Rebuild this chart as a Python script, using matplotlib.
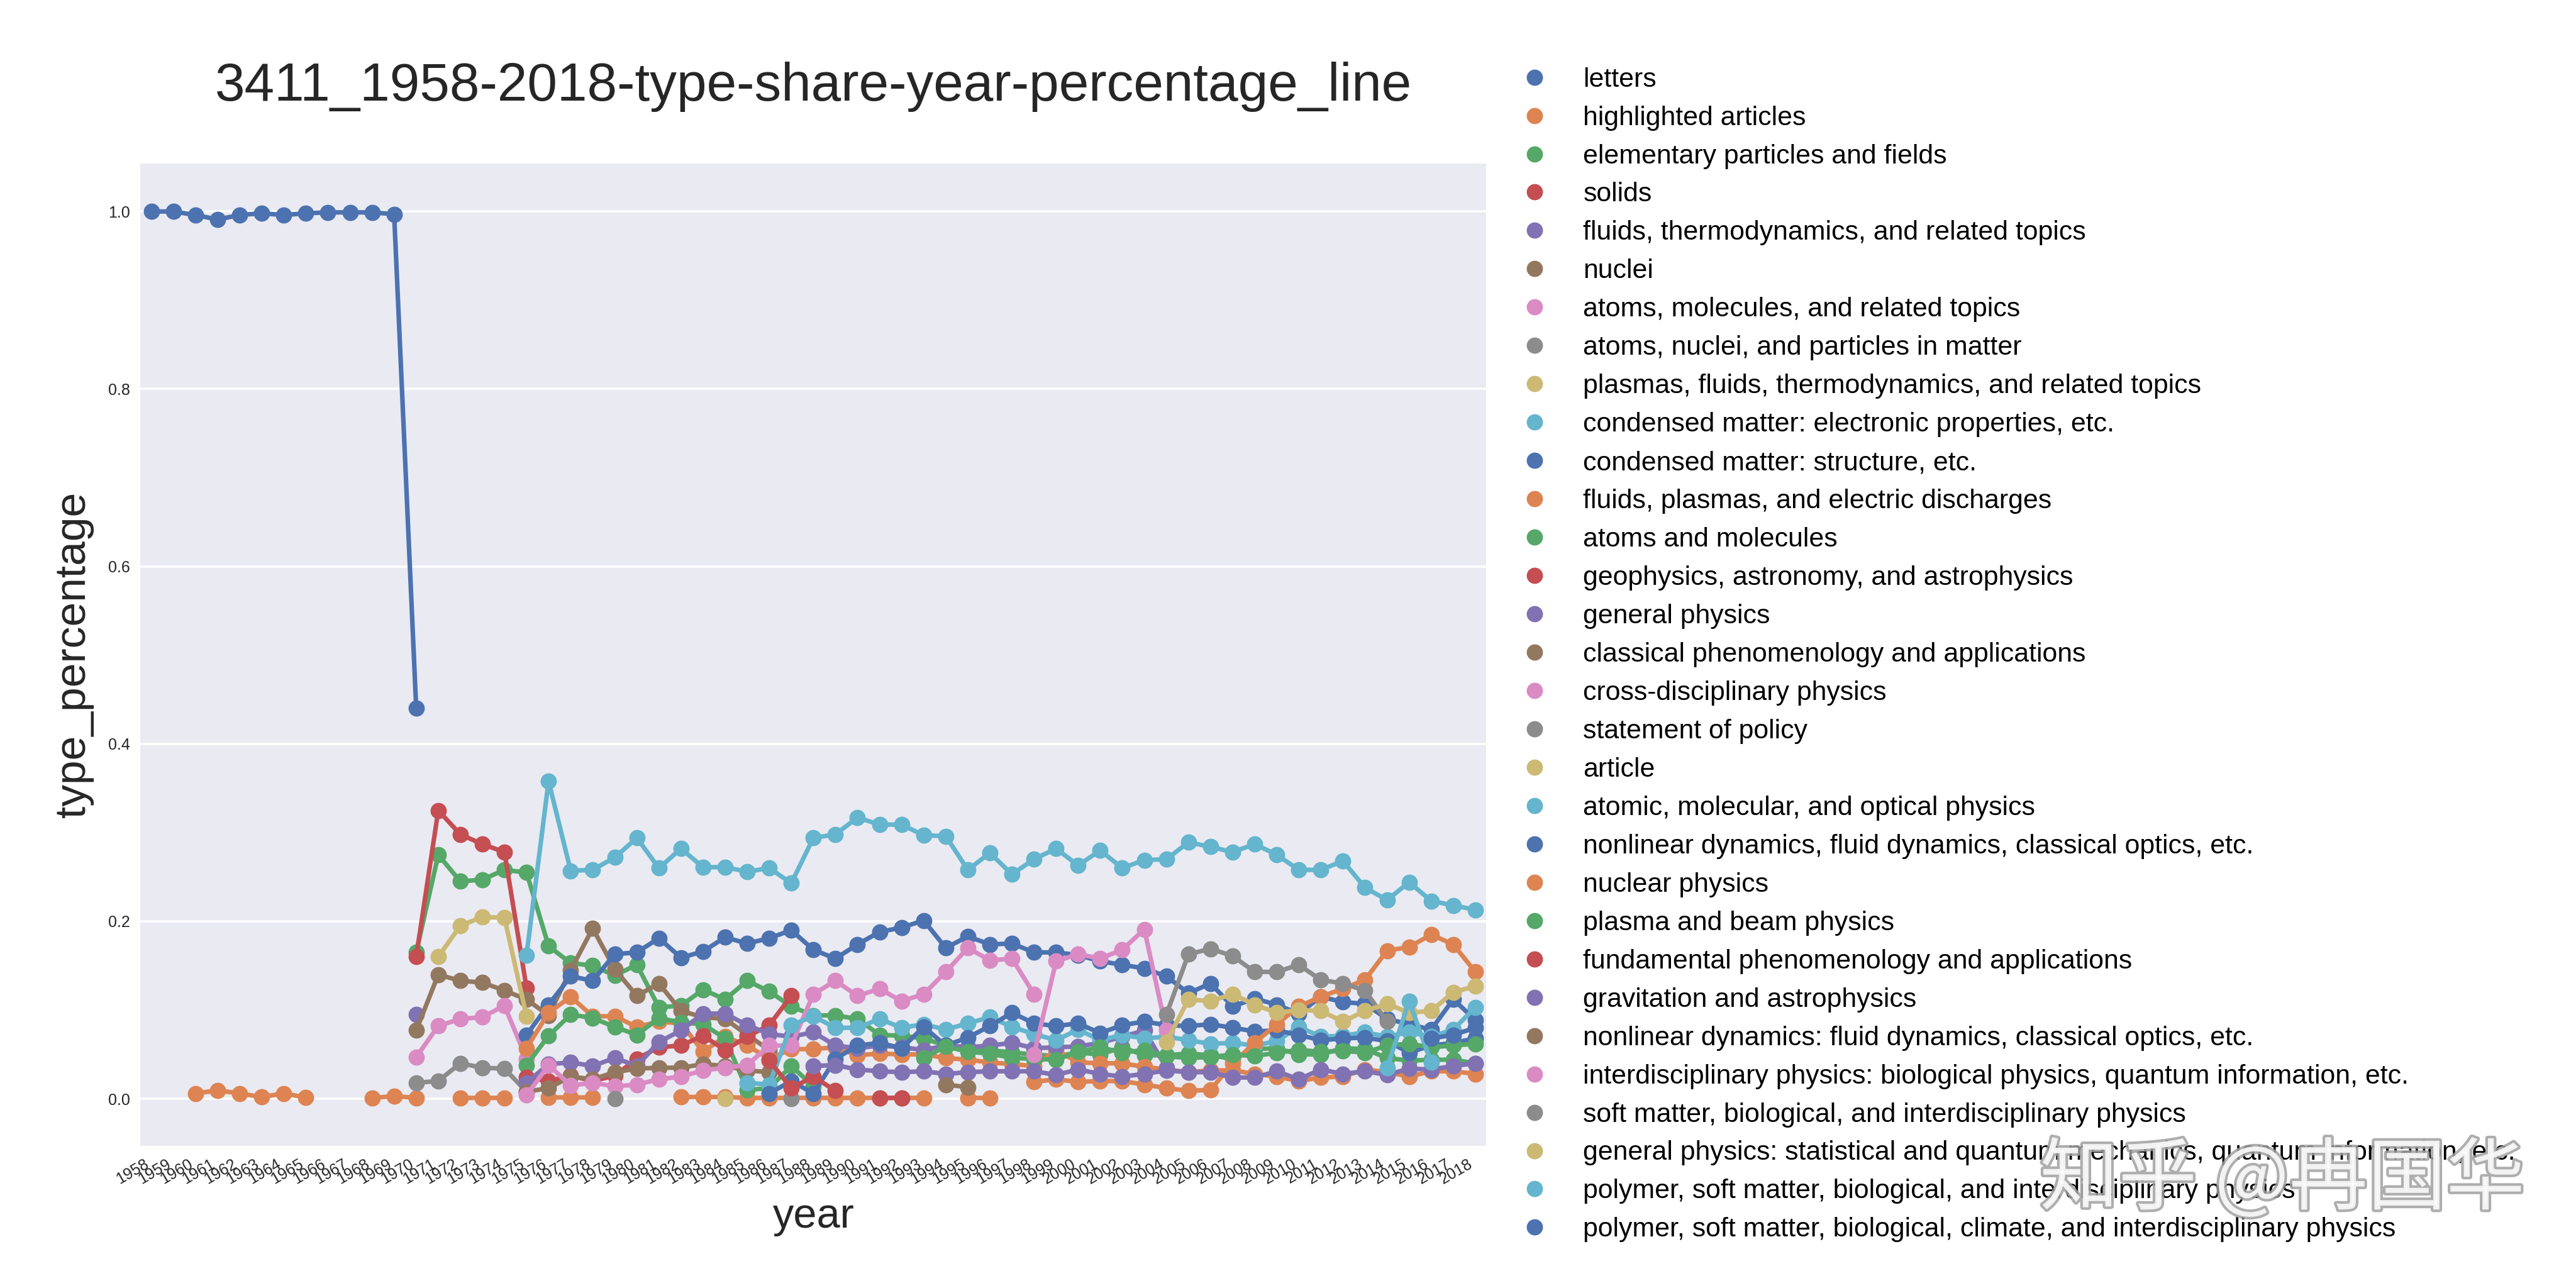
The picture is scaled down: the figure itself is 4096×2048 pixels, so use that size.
import matplotlib
matplotlib.use("Agg")
import matplotlib.pyplot as plt
import matplotlib.patheffects as pe
from matplotlib.lines import Line2D
import numpy as np

plt.rcParams["font.family"] = ["Liberation Sans", "DejaVu Sans"]

YEARS = list(range(1958, 2019))
N = None

# (start year, values) per type, None = no papers that year
letters = (1958, [1.0, 1.0, 0.996, 0.991, 0.996, 0.998, 0.996, 0.998, 0.999, 0.999, 0.999, 0.997, 0.44])
highlighted = (1960, [0.006, 0.0095, 0.006, 0.002, 0.006, 0.0015, N, N, 0.001, 0.003, 0.001, N,
                      0.001, 0.001, 0.001, N, 0.0015, 0.0015, 0.0015, N, N, N, 0.002, 0.002, 0.002,
                      0.001, 0.001, 0.001, 0.001, 0.001, 0.001, 0.001, 0.001, 0.001, N, 0.001, 0.001])
elementary = (1970, [0.165, 0.275, 0.245, 0.247, 0.258, 0.255, 0.172, 0.153, 0.150, 0.139, 0.151,
                     0.103, 0.105, 0.123, 0.112, 0.133, 0.121, 0.104, 0.094, 0.094, 0.090, 0.072,
                     0.071, 0.068, 0.060, 0.058, 0.055, 0.052, 0.050, 0.048, 0.052, 0.050, 0.058,
                     0.049, 0.049, 0.051, 0.049, 0.045, 0.056, 0.057, 0.050, 0.050, 0.057, 0.056,
                     0.046, 0.043, 0.044, 0.044, 0.040])
solids = (1970, [0.160, 0.325, 0.298, 0.287, 0.278, 0.125])
fluids_thermo = (1970, [0.095])
nuclei = (1970, [0.077, 0.140, 0.133, 0.131, 0.122, 0.112, 0.094, 0.145, 0.192, 0.146, 0.116,
                 0.130, 0.099, 0.092, 0.090, 0.072, 0.055])
atoms_mol_topics = (1970, [0.047, 0.082, 0.090, 0.092, 0.105, 0.045])
atoms_nuclei = (1970, [0.018, 0.020, 0.040, 0.035, 0.034, 0.008])
plasmas_fluids = (1971, [0.160, 0.195, 0.205, 0.204, 0.093])
cm_electronic = (1975, [0.162, 0.358, 0.257, 0.258, 0.272, 0.294, 0.260, 0.282, 0.261, 0.261,
                        0.256, 0.260, 0.243, 0.294, 0.298, 0.317, 0.309, 0.309, 0.297, 0.296,
                        0.258, 0.277, 0.253, 0.270, 0.282, 0.263, 0.280, 0.260, 0.269, 0.270,
                        0.289, 0.284, 0.278, 0.287, 0.275, 0.258, 0.258, 0.268, 0.238, 0.224,
                        0.244, 0.223, 0.218, 0.213])
cm_structure = (1975, [0.072, 0.106, 0.138, 0.133, 0.163, 0.165, 0.181, 0.159, 0.166, 0.182,
                       0.175, 0.181, 0.190, 0.168, 0.158, 0.174, 0.188, 0.193, 0.201, 0.170,
                       0.183, 0.174, 0.175, 0.165, 0.165, 0.162, 0.155, 0.151, 0.147, 0.138,
                       0.119, 0.130, 0.104, 0.113, 0.106, 0.096, 0.115, 0.109, 0.107, 0.090,
                       0.084, 0.078, 0.112, 0.089])
fluids_plasmas = (1975, [0.057, 0.097, 0.115, 0.093, 0.093, 0.081, 0.087, 0.085, 0.053, 0.070,
                         0.060, 0.045, 0.056, 0.056, 0.058, 0.049, 0.051, 0.050, 0.050, 0.046,
                         0.044, 0.041, 0.039, 0.037, 0.055, 0.041, 0.040, 0.040, 0.036, 0.033,
                         0.030, 0.032, 0.032, 0.028, 0.025, 0.020, 0.024, 0.025, 0.033, 0.030,
                         0.025, 0.031, 0.031, 0.028])
atoms_molecules = (1975, [0.038, 0.071, 0.095, 0.091, 0.081, 0.072, 0.091, 0.086, 0.084, 0.068,
                          0.010, 0.012, 0.037, 0.014])
geophysics = (1975, [0.024, 0.020, 0.026, 0.020, 0.026, 0.045, 0.058, 0.060, 0.071, 0.055,
                     0.070, 0.083, 0.116])
general_physics = (1975, [0.018, 0.039, 0.041, 0.037, 0.046, 0.037, 0.064, 0.077, 0.096, 0.096,
                          0.083, 0.073, 0.070, 0.075, 0.060, 0.057, 0.060, 0.058, 0.055, 0.060,
                          0.058, 0.060, 0.063, 0.057, 0.058, 0.059, 0.063, 0.070, 0.077, 0.035])
classical_phen = (1975, [0.008, 0.012, 0.025, 0.022, 0.030, 0.034, 0.035, 0.035, 0.039, 0.037,
                         0.032, 0.030])
cross_disc = (1975, [0.004, 0.038, 0.015, 0.018, 0.014, 0.016, 0.022, 0.025, 0.032, 0.035,
                     0.038, 0.060, 0.060, 0.118, 0.133, 0.116, 0.124, 0.110, 0.118, 0.143,
                     0.170, 0.156, 0.158, 0.118])
policy = (1979, [0.0, N, N, N, N, N, N, N, 0.0])
article = (1984, [0.0])
amo = (1985, [0.018, 0.016, 0.083, 0.093, 0.080, 0.080, 0.090, 0.080, 0.084, 0.078, 0.085,
              0.092, 0.081, 0.073, 0.066, 0.078, 0.066, 0.072, 0.068, 0.070, 0.066, 0.062,
              0.063, 0.060, 0.065, 0.081, 0.070, 0.071, 0.075, 0.070, 0.075, 0.070, 0.078,
              0.103])
nonlinear = (1986, [0.006, 0.020, 0.006, 0.045, 0.060, 0.063, 0.057, 0.081, 0.060, 0.069,
                    0.082, 0.097, 0.085, 0.082, 0.085, 0.074, 0.083, 0.087, 0.083, 0.082,
                    0.084, 0.080, 0.076, 0.077, 0.072, 0.066, 0.068, 0.069, 0.065, 0.052,
                    0.060, 0.063, 0.068])
nuclear = (1998, [0.019, 0.022, 0.019, 0.020, 0.020, 0.016, 0.012, 0.009, 0.010, 0.040, 0.063,
                  0.084, 0.104, 0.115, 0.124, 0.134, 0.167, 0.171, 0.185, 0.174, 0.143])
plasma_beam = (1993, [0.046, 0.059, 0.053, 0.051, 0.046, 0.045, 0.044, 0.053, 0.058, 0.052,
                      0.055, 0.048, 0.046, 0.047, 0.050, 0.048, 0.052, 0.055, 0.053, 0.054,
                      0.052, 0.060, 0.062, 0.058, 0.060, 0.062])
fundamental = (1986, [0.043, 0.012, 0.025, 0.009, N, 0.001, 0.001])
gravitation = (1988, [0.037, 0.038, 0.033, 0.031, 0.030, 0.031, 0.028, 0.030, 0.031, 0.031,
                      0.031, 0.027, 0.033, 0.028, 0.025, 0.028, 0.032, 0.030, 0.030, 0.024,
                      0.024, 0.031, 0.022, 0.033, 0.028, 0.031, 0.027, 0.034, 0.033, 0.037,
                      0.040])
nonlinear_colon = (1994, [0.016, 0.013])
interdisc = (1998, [0.050, 0.155, 0.163, 0.158, 0.168, 0.191, 0.077])
soft_matter = (2004, [0.095, 0.163, 0.169, 0.161, 0.143, 0.143, 0.151, 0.134, 0.130, 0.122, 0.087])
gen_stat_quantum = (2004, [0.064, 0.112, 0.110, 0.118, 0.106, 0.097, 0.100, 0.099, 0.087, 0.099,
                           0.107, 0.097, 0.099, 0.120, 0.127])
polymer = (2014, [0.035, 0.110, 0.041])
polymer_climate = (2016, [0.068, 0.072, 0.080])

TYPES = [
    ("letters", letters),
    ("highlighted articles", highlighted),
    ("elementary particles and fields", elementary),
    ("solids", solids),
    ("fluids, thermodynamics, and related topics", fluids_thermo),
    ("nuclei", nuclei),
    ("atoms, molecules, and related topics", atoms_mol_topics),
    ("atoms, nuclei, and particles in matter", atoms_nuclei),
    ("plasmas, fluids, thermodynamics, and related topics", plasmas_fluids),
    ("condensed matter: electronic properties, etc.", cm_electronic),
    ("condensed matter: structure, etc.", cm_structure),
    ("fluids, plasmas, and electric discharges", fluids_plasmas),
    ("atoms and molecules", atoms_molecules),
    ("geophysics, astronomy, and astrophysics", geophysics),
    ("general physics", general_physics),
    ("classical phenomenology and applications", classical_phen),
    ("cross-disciplinary physics", cross_disc),
    ("statement of policy", policy),
    ("article", article),
    ("atomic, molecular, and optical physics", amo),
    ("nonlinear dynamics, fluid dynamics, classical optics, etc.", nonlinear),
    ("nuclear physics", nuclear),
    ("plasma and beam physics", plasma_beam),
    ("fundamental phenomenology and applications", fundamental),
    ("gravitation and astrophysics", gravitation),
    ("nonlinear dynamics: fluid dynamics, classical optics, etc.", nonlinear_colon),
    ("interdisciplinary physics: biological physics, quantum information, etc.", interdisc),
    ("soft matter, biological, and interdisciplinary physics", soft_matter),
    ("general physics: statistical and quantum mechanics, quantum information, etc.", gen_stat_quantum),
    ("polymer, soft matter, biological, and interdisciplinary physics", polymer),
    ("polymer, soft matter, biological, climate, and interdisciplinary physics", polymer_climate),
]

# seaborn "deep" palette
DEEP = ["#4C72B0", "#DD8452", "#55A868", "#C44E52", "#8172B3",
        "#937860", "#DA8BC3", "#8C8C8C", "#CCB974", "#64B5CD"]

fig = plt.figure(figsize=(20.48, 10.24), dpi=200)
ax = fig.add_axes([0.0545, 0.1104, 0.5225, 0.7626])
ax.set_facecolor("#EAEAF2")
for s in ax.spines.values():
    s.set_visible(False)
ax.yaxis.grid(True, color="white", linewidth=1.3)
ax.set_axisbelow(True)

handles = []
for k, (name, (start, vals)) in enumerate(TYPES):
    color = DEEP[k % 10]
    y = np.full(len(YEARS), np.nan)
    i0 = YEARS.index(start)
    for j, v in enumerate(vals):
        if v is not None:
            y[i0 + j] = v
    x = np.arange(len(YEARS))
    ax.plot(x, y, color=color, marker="o", markersize=8.3, linewidth=2.6, zorder=2 + k * 0.01)
    handles.append(Line2D([], [], color=color, marker="o", linestyle="", markersize=8.3, label=name))

ax.set_xlim(-0.5, len(YEARS) - 0.5)
ax.set_ylim(-0.053, 1.054)
ax.set_xticks(np.arange(len(YEARS)))
ax.set_xticklabels([str(y) for y in YEARS], rotation=30, ha="right", fontsize=9, color="#262626")
ax.set_yticks([0.0, 0.2, 0.4, 0.6, 0.8, 1.0])
ax.set_yticklabels(["0.0", "0.2", "0.4", "0.6", "0.8", "1.0"], fontsize=9, color="#262626")
ax.tick_params(length=0, pad=6)

ax.set_xlabel("year", fontsize=24, color="#262626", labelpad=6)
ax.set_ylabel("type_percentage", fontsize=25, color="#262626", labelpad=8)
ax.set_title("3411_1958-2018-type-share-year-percentage_line", fontsize=30.8, color="#262626", pad=36)

ax.legend(handles=handles, loc="center left", bbox_to_anchor=(1.0, 0.5), frameon=False,
          fontsize=15.4, handletextpad=0.8, borderaxespad=0.4, labelspacing=0.49)

fig.text(0.886, 0.083, "知乎 @冉国华", fontsize=45, color="white", alpha=0.85,
         ha="center", va="center", family=["Noto Sans CJK SC", "DejaVu Sans"],
         path_effects=[pe.withStroke(linewidth=3, foreground="#a0a0a0")])

fig.savefig("out.png", dpi=200)
